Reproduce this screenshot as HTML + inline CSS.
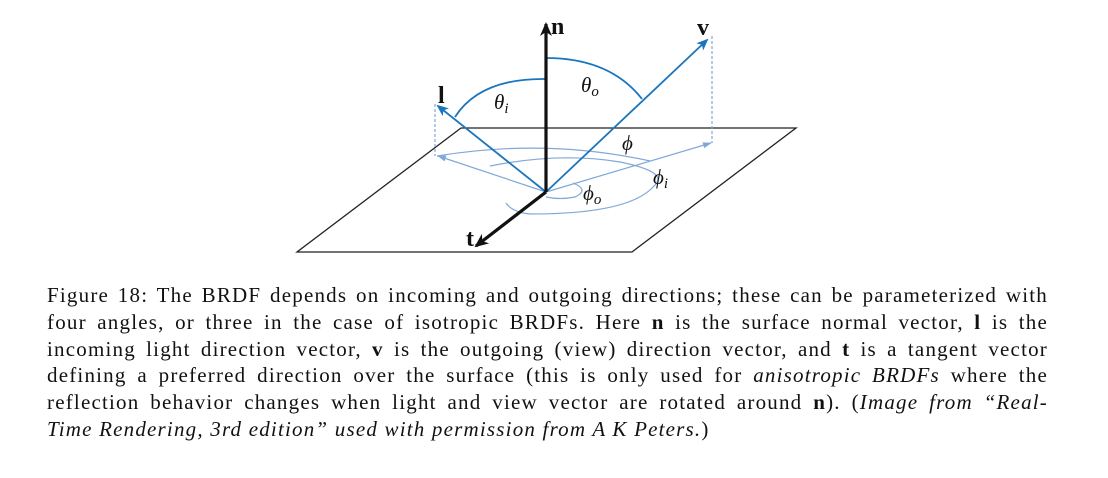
<!DOCTYPE html>
<html><head><meta charset="utf-8"><style>
body{margin:0;width:1108px;height:478px;background:#fff;overflow:hidden;position:relative}
svg{position:absolute;left:0;top:0}
.cap{position:absolute;left:47px;top:282px;width:1001px;font-family:"Liberation Serif",serif;font-size:21px;letter-spacing:1.2px;line-height:26.8px;color:#111}
.cap div{text-align:justify;text-align-last:justify;white-space:nowrap}
.cap div.l{text-align-last:left}
</style></head><body>
<svg width="1108" height="478" viewBox="0 0 1108 478">
<defs>
<marker id="bk" markerWidth="14" markerHeight="14" refX="12" refY="7" orient="auto" markerUnits="userSpaceOnUse"><path d="M0,1 L14,7 L0,13 L4,7 z" fill="#111"/></marker>
<marker id="bl" markerWidth="12" markerHeight="12" refX="10" refY="6" orient="auto" markerUnits="userSpaceOnUse"><path d="M0,1 L12,6 L0,11 L3,6 z" fill="#1a75bc"/></marker>
<marker id="lb" markerWidth="9" markerHeight="8" refX="8" refY="4" orient="auto" markerUnits="userSpaceOnUse"><path d="M0,1 L9,4 L0,7 z" fill="#7fa9d9"/></marker>
</defs>
<polygon points="461,128 796,128 632,252 297,252" fill="none" stroke="#222" stroke-width="1.3"/>
<g stroke="#7fa9d9" stroke-width="1.2" fill="none">
<line x1="435" y1="104" x2="435" y2="156" stroke-dasharray="3,2"/>
<line x1="712" y1="36" x2="712" y2="143" stroke-dasharray="3,2"/>
<line x1="546" y1="192" x2="438" y2="156" marker-end="url(#lb)"/>
<line x1="546" y1="192" x2="711" y2="143" marker-end="url(#lb)"/>
<path d="M437,156 Q546,138 650,161"/>
<path d="M490,166 Q560,152 620,162 Q670,172 654,186 Q630,214 530,214 Q512,212 506,203"/>
<path d="M573,183 Q590,190 575,197 Q560,200 546,197"/>
</g>
<g stroke="#1a75bc" stroke-width="1.8" fill="none">
<path d="M546,58 Q610,58 642,99"/>
<path d="M546,79 Q480,78 455,117"/>
<line x1="546" y1="192" x2="438" y2="106" marker-end="url(#bl)"/>
<line x1="546" y1="192" x2="707" y2="40" marker-end="url(#bl)"/>
</g>
<line x1="546" y1="192" x2="546" y2="24" stroke="#111" stroke-width="3.2" marker-end="url(#bk)"/>
<line x1="546" y1="192" x2="476" y2="246" stroke="#111" stroke-width="3.2" marker-end="url(#bk)"/>
<g font-family="Liberation Serif,serif" fill="#111">
<text x="551" y="34" font-size="24" font-weight="bold">n</text>
<text x="697" y="35" font-size="24" font-weight="bold">v</text>
<text x="438" y="103" font-size="24" font-weight="bold">l</text>
<text x="466" y="246" font-size="24" font-weight="bold">t</text>
<text x="494" y="109" font-size="21" font-style="italic">θ<tspan font-size="15" dy="4">i</tspan></text>
<text x="581" y="92" font-size="21" font-style="italic">θ<tspan font-size="15" dy="4">o</tspan></text>
<text x="622" y="150" font-size="21" font-style="italic">ϕ</text>
<text x="653" y="184" font-size="21" font-style="italic">ϕ<tspan font-size="15" dy="4">i</tspan></text>
<text x="583" y="200" font-size="21" font-style="italic">ϕ<tspan font-size="15" dy="4">o</tspan></text>
</g>
</svg>
<div class="cap">
<div>Figure 18: The BRDF depends on incoming and outgoing directions; these can be parameterized with</div>
<div>four angles, or three in the case of isotropic BRDFs. Here <b>n</b> is the surface normal vector, <b>l</b> is the</div>
<div>incoming light direction vector, <b>v</b> is the outgoing (view) direction vector, and <b>t</b> is a tangent vector</div>
<div>defining a preferred direction over the surface (this is only used for <i>anisotropic BRDFs</i> where the</div>
<div>reflection behavior changes when light and view vector are rotated around <b>n</b>). (<i>Image from “Real-</i></div>
<div class="l"><i>Time Rendering, 3rd edition” used with permission from A K Peters.</i>)</div>
</div>
</body></html>
